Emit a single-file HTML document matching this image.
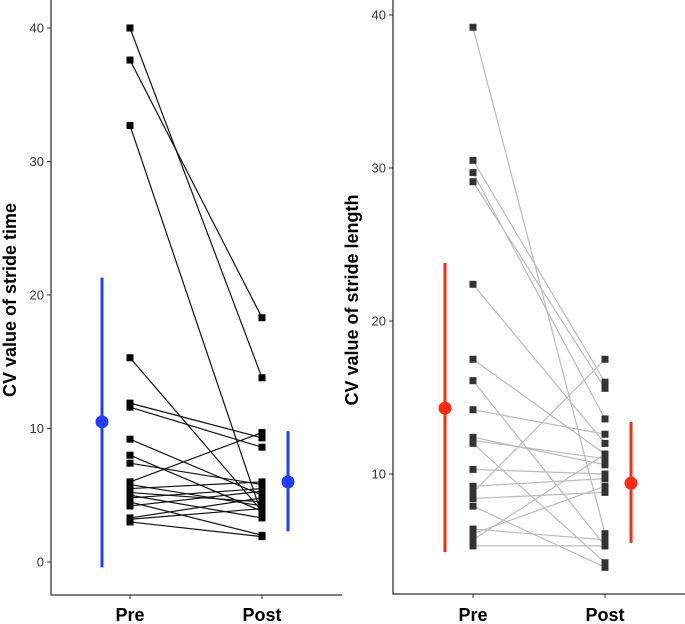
<!DOCTYPE html>
<html><head><meta charset="utf-8"><style>
body{margin:0;background:#fff;}
svg{display:block;font-family:"Liberation Sans",sans-serif;}
.tick{font-size:13px;fill:#333;}
.xl{font-size:18px;font-weight:bold;fill:#000;}
.yt{font-size:18px;font-weight:bold;fill:#000;}
</style></head><body>
<svg id="c" width="685" height="624"></svg>
<script>
const groups=["Pre","Post"];
const timePre=[40,37.6,32.7,15.3,11.9,11.6,9.2,8.0,7.4,6.0,5.8,5.5,5.2,5.0,4.8,4.5,4.2,3.3,3.0,3.2];
const timePost=[13.8,18.3,3.5,3.8,9.3,8.6,5.0,3.8,5.8,9.7,4.2,6.0,4.5,3.3,5.5,2.0,5.3,4.8,1.9,4.0];
const timeMean=[10.5,6.0];
const timeLo=[-0.4,2.3];
const timeHi=[21.3,9.8];
const timeTicks=[0,10,20,30,40];
const lenPre=[39.2,30.5,29.7,29.1,22.4,17.5,16.1,14.2,12.4,12.2,12.0,10.3,9.2,8.8,8.4,7.9,6.4,6.1,5.7,5.3];
const lenPost=[6.1,16.0,13.6,15.6,12.0,11.3,5.3,12.6,10.6,11.0,4.2,10.0,9.7,17.5,8.8,3.9,5.7,9.2,11.3,5.3];
const lenMean=[14.3,9.4];
const lenLo=[4.9,5.5];
const lenHi=[23.8,13.4];
const lenTicks=[10,20,30,40];
const NS="http://www.w3.org/2000/svg";
const svg=document.getElementById('c');
function mk(t,a,p){const e=document.createElementNS(NS,t);for(const k in a)e.setAttribute(k,a[k]);(p||svg).appendChild(e);return e;}
function panel(o){
 const g=mk('g',{});
 
 
 const y=v=>o.y0-(v-o.v0)*o.k;
 const xs=[o.xPre,o.xPost];
 // lines
 for(let i=0;i<o.pre.length;i++){
  const l=mk('line',{x1:xs[0],y1:y(o.pre[i]),x2:xs[1],y2:y(o.post[i]),stroke:o.lc,'stroke-width':1.2},g);
  
  
 }
 [o.pre,o.post].forEach((arr,j)=>arr.forEach(v=>{
  const r=mk('rect',{x:xs[j]-3.5,y:y(v)-3.5,width:7,height:7,fill:o.pc},g);
  
  
 }));
 const mx=[o.xPre-28,o.xPost+26];
 for(let j=0;j<2;j++){
  const l=mk('line',{x1:mx[j],x2:mx[j],y1:y(o.lo[j]),y2:y(o.hi[j]),stroke:o.mc,'stroke-width':3},g);
  
  
  const c=mk('circle',{cx:mx[j],cy:y(o.mean[j]),r:6.5,fill:o.mc},g);
  
  
 }
 // axes
 const ax=mk('path',{d:`M${o.ax},0V${o.axY}H${o.ax2}`,stroke:'#333',fill:'none','stroke-width':1.3},g);
 
 
 o.ticks.forEach(t=>{
  mk('line',{x1:o.ax-4,x2:o.ax,y1:y(t),y2:y(t),stroke:'#333'},g);
  const tx=mk('text',{x:o.ax-7,y:y(t)+4.5,'text-anchor':'end',class:'tick'},g);
  tx.textContent=t;
  
  
 });
 groups.forEach((gname,j)=>{
  mk('line',{x1:xs[j],x2:xs[j],y1:o.axY,y2:o.axY+4,stroke:'#333'},g);
  const tx=mk('text',{x:xs[j],y:621,'text-anchor':'middle',class:'xl'},g);
  tx.textContent=gname;
  
  
 });
 const tt=mk('text',{x:o.tx,y:300,'text-anchor':'middle',class:'yt',transform:`rotate(-90 ${o.tx} 300)`},g);
 tt.textContent=o.title;
 
 
}
panel({name:'stride-time-panel',pre:timePre,post:timePost,mean:timeMean,lo:timeLo,hi:timeHi,ticks:timeTicks,
 v0:0,y0:562,k:13.35,xPre:130,xPost:262,ax:51,ax2:342,axY:595,lc:'#111',pc:'#000',mc:'#1f3cff',
 tx:16,title:'CV value of stride time'});
panel({name:'stride-length-panel',pre:lenPre,post:lenPost,mean:lenMean,lo:lenLo,hi:lenHi,ticks:lenTicks,
 v0:10,y0:474,k:15.3,xPre:473,xPost:605,ax:393,ax2:685,axY:594,lc:'#bbb',pc:'#333',mc:'#ff2a10',
 tx:358,title:'CV value of stride length'});
</script>
</body></html>
